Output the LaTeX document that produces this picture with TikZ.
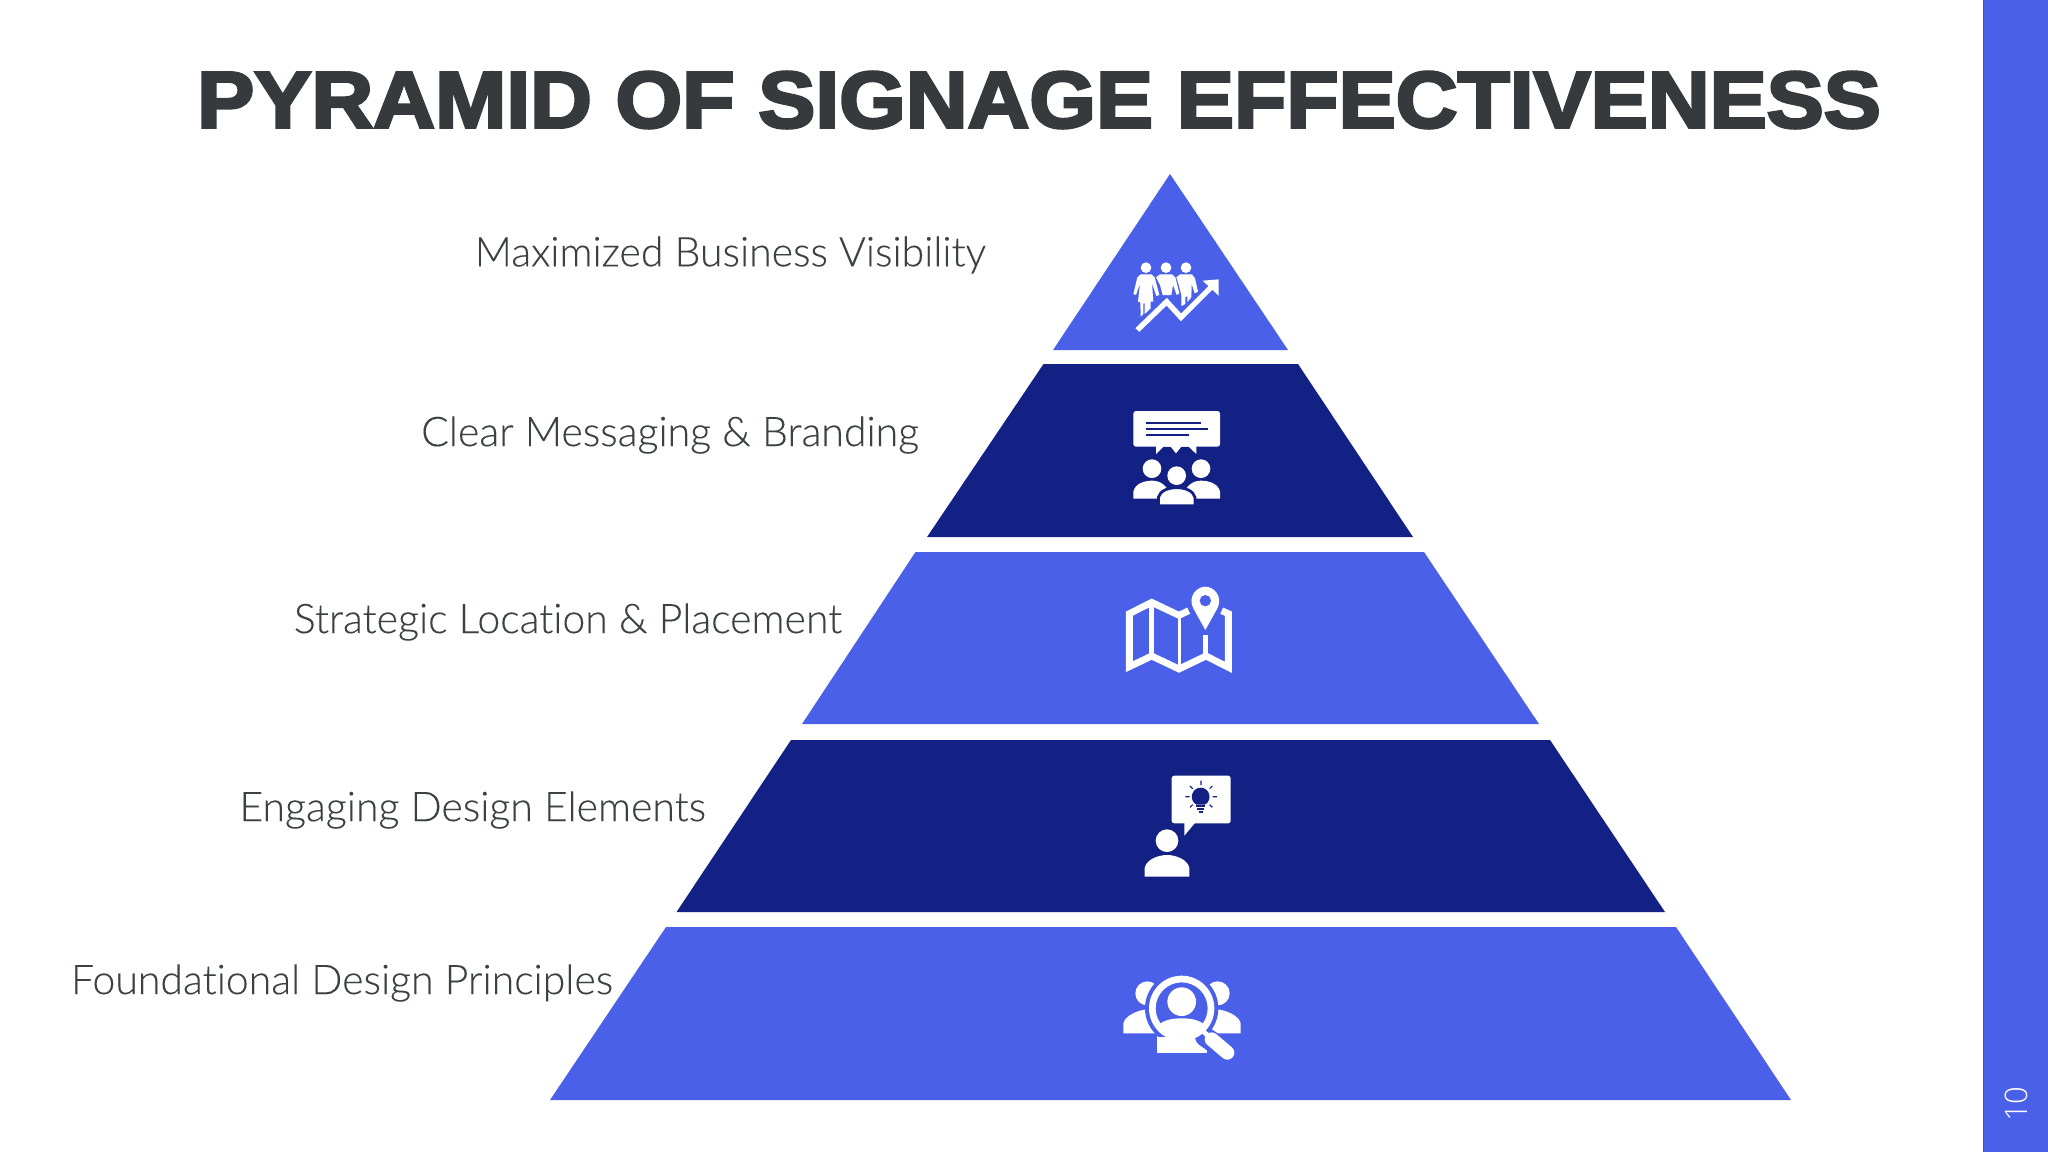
\documentclass[tikz,border=0pt]{standalone}
\usepackage{fontspec}
\setmainfont[Ligatures=NoCommon,FakeBold=0.15]{Lato Light}
\newfontfamily\titlefont[FakeBold=3.6,FakeStretch=1.07]{Liberation Sans Bold}
\newfontfamily\pagefont{Open Sans Light}
\definecolor{layerblue}{HTML}{4A60E8}
\definecolor{layernavy}{HTML}{122183}
\definecolor{textgrey}{HTML}{3C4142}
\definecolor{titlegrey}{HTML}{363A3C}
\tikzset{
    layerlabel/.style={anchor=east,text=textgrey,font=\fontsize{20.5}{24}\selectfont},
}
\begin{document}
\begin{tikzpicture}[x=0.5pt,y=-0.5pt]
    \useasboundingbox (0,0) rectangle (2048,1152);
    \node[anchor=center,text=titlegrey,font=\titlefont\fontsize{40}{44}\selectfont] (title) at (1039,100) {PYRAMID OF SIGNAGE EFFECTIVENESS};

    \fill[layerblue] (1983,0) rectangle (2048,1152);
    \draw[layerblue!85!black,line width=0.5pt] (1983,0) -- (1983,1152);
    \node[rotate=90,text=white,font=\pagefont\fontsize{15.5}{18}\selectfont] (pageno) at (2016,1104) {10};

    % pyramid layers
    \fill[layerblue] (1170,174) -- (1288,350) -- (1053,350) -- cycle;
    \fill[layernavy] (1043.5,364) -- (1298,364) -- (1413,537) -- (927,537) -- cycle;
    \fill[layerblue] (915.5,552) -- (1424,552) -- (1539,724) -- (802,724) -- cycle;
    \fill[layernavy] (791,740) -- (1550,740) -- (1665,912) -- (676.5,912) -- cycle;
    \fill[layerblue] (666,927) -- (1676,927) -- (1791,1100) -- (550,1100) -- cycle;

    \node[layerlabel] (visibility) at (993,255) {Maximized Business Visibility};
    \node[layerlabel] (messaging) at (926,435) {Clear Messaging \& Branding};
    \node[layerlabel] (location) at (849,622) {Strategic Location \& Placement};
    \node[layerlabel] (design) at (713,810) {Engaging Design Elements};
    \node[layerlabel] (principles) at (620,983) {Foundational Design Principles};

    % people and rising arrow
    \begin{scope}[shift={(1080,240)},scale=1/3]
        \foreach \hx in {198,258,318} {
            \fill[white] (\hx,83) circle (16);
        }
        \fill[white] (182,103) -- (214,103) -- (224,112) -- (238,165) -- (229,168) -- (216,130) -- (220,185) -- (212,185) -- (212,205) -- (194,222) -- (194,190) -- (190,190) -- (190,222) -- (182,230) -- (181,187) -- (174,185) -- (180,130) -- (168,165) -- (160,162) -- (172,112) -- cycle;
        \fill[white] (240,103) -- (276,103) -- (286,112) -- (298,160) -- (290,165) -- (279,135) -- (274,165) -- (248,165) -- (240,135) -- (228,112) -- cycle;
        \fill[white] (300,103) -- (336,103) -- (345,115) -- (354,155) -- (344,160) -- (335,132) -- (334,172) -- (322,186) -- (322,170) -- (316,170) -- (316,192) -- (304,198) -- (304,165) -- (295,130) -- (289,112) -- cycle;
        \draw[white,line width=2.7pt,line join=miter] (172,270) -- (260,185) -- (303,232) -- (392,143);
        \fill[white] (368,122) -- (416,118) -- (416,167) -- cycle;
    \end{scope}

    % speech bubble and audience
    \begin{scope}[shift={(1080,240)},scale=1/3]
        \fill[white,rounded corners=1.3pt] (160,513) rectangle (420,620);
        \fill[white] (228,615) -- (228,642) -- (250,620) -- (272,620) -- (288,640) -- (304,620) -- (326,620) -- (349,642) -- (349,615) -- cycle;
        \draw[layernavy,line width=1pt] (197,548) -- (363,548) (197,566) -- (384,566) (197,584) -- (327,584);
        \fill[white] (216,686) circle (28) (363,686) circle (28);
        \fill[white] (160,776) -- (160,755) .. controls (165,730) and (195,722) .. (216,722) .. controls (240,722) and (265,735) .. (272,776) -- cycle;
        \fill[white] (420,776) -- (420,755) .. controls (415,730) and (385,722) .. (363,722) .. controls (340,722) and (315,735) .. (308,776) -- cycle;
        \fill[white] (290,707) circle (28);
        \filldraw[fill=white,draw=layernavy,line width=1.4pt] (235,797) -- (235,772) .. controls (240,752) and (265,743) .. (290,743) .. controls (315,743) and (340,752) .. (345,772) -- (345,797) -- cycle;
    \end{scope}

    % map and pin
    \begin{scope}[shift={(1080,570)},scale=1/3]
        \draw[white,line width=3.4pt,miter limit=4] (326,122) -- (297,136) -- (215,97) -- (148,131) -- (148,290) -- (215,258) -- (297,297) -- (378,258) -- (445,292) -- (445,131) -- (425,122);
        \draw[white,line width=2.3pt] (215,97) -- (215,258) (376,195) -- (376,258);
        \draw[white,line width=1.5pt] (297,136) -- (297,297);
        \fill[white] (376,180) -- (340,115) .. controls (322,80) and (350,50) .. (376,50) .. controls (402,50) and (430,80) .. (412,115) -- cycle;
        \fill[layerblue] (376,92) circle (17);
    \end{scope}

    % person with idea
    \begin{scope}[shift={(1080,570)},scale=1/3]
        \fill[white,rounded corners=1.3pt] (275,617) rectangle (452,760);
        \fill[white] (313,755) -- (313,797) -- (348,755) -- cycle;
        \fill[layernavy] (349,704) .. controls (325,690) and (335,653) .. (362,653) .. controls (389,653) and (399,690) .. (375,704) -- cycle;
        \draw[layernavy,line width=0.9pt] (349,708) -- (376,708) (352,717) -- (373,717) (356,726) -- (369,726);
        \draw[layernavy,line width=0.6pt] (363,632) -- (363,645) (330,648) -- (338,656) (397,648) -- (389,656) (316,680) -- (329,680) (398,680) -- (411,680) (330,712) -- (338,704) (397,712) -- (389,704);
        \fill[white] (261,812) circle (34);
        \fill[white] (194,920) -- (194,893) .. controls (200,868) and (235,855) .. (261,855) .. controls (287,855) and (322,868) .. (328,893) -- (328,920) -- cycle;
    \end{scope}

    % magnifier over group
    \begin{scope}[shift={(1090,950)},scale=1/3]
        \fill[white] (172,130) circle (36) (383,130) circle (36);
        \fill[white] (100,250) -- (100,220) .. controls (105,195) and (150,178) .. (175,178) -- (210,250) -- cycle;
        \fill[white] (452,250) -- (452,220) .. controls (447,195) and (402,178) .. (377,178) -- (340,250) -- cycle;
        \fill[white] (202,240) rectangle (352,310);
        \fill[layerblue] (275,175) circle (110);
        \fill[white] (200,262) -- (200,310) -- (352,310) -- (352,262) -- cycle;
        \draw[layerblue,line width=10pt,line cap=round] (345,260) -- (410,306);
        \fill[white,even odd rule] (275,175) circle (98) (275,175) circle (78);
        \fill[white] (275,155) circle (43);
        \begin{scope}
            \clip (275,175) circle (79);
            \fill[white] (190,260) -- (205,225) .. controls (225,208) and (250,205) .. (275,205) .. controls (300,205) and (325,208) .. (345,225) -- (360,260) -- cycle;
        \end{scope}
        \draw[white,line width=2.4pt] (335,240) -- (355,258);
        \draw[white,line width=7pt,line cap=round] (365,268) -- (412,308);
    \end{scope}
\end{tikzpicture}
\end{document}
